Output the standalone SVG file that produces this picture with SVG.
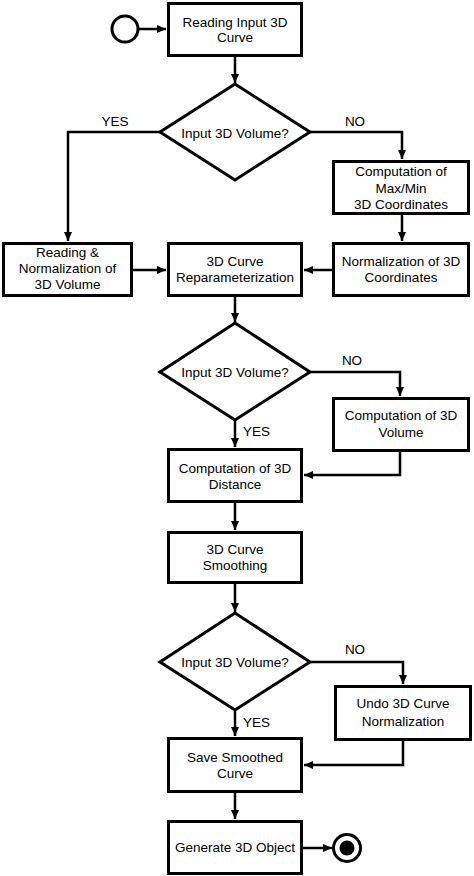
<svg xmlns="http://www.w3.org/2000/svg" width="474" height="876" viewBox="0 0 474 876">
<defs>
<marker id="ah" markerUnits="userSpaceOnUse" markerWidth="10" markerHeight="10" refX="9" refY="5" orient="auto">
<path d="M0,1 L9,5 L0,9 Z" fill="#000"/>
</marker>
<style>
.box{fill:#fff;stroke:#000;stroke-width:3}
.dia{fill:#fff;stroke:#000;stroke-width:3;stroke-linejoin:miter}
.c{fill:none;stroke:#000;stroke-width:2.5;marker-end:url(#ah)}
.cn{fill:none;stroke:#000;stroke-width:2.5}
text{font-family:"Liberation Sans",Arial,sans-serif;font-size:13.5px;fill:#000;text-anchor:middle}
.l{text-anchor:start}
</style>
</defs>
<rect width="474" height="876" fill="#fff"/>
<g id="connectors">
<path class="c" d="M139,29 H166"/>
<path class="c" d="M235,57 V83"/>
<path class="c" d="M160,132 H68 V241"/>
<path class="c" d="M310,132 H402 V159"/>
<path class="c" d="M402,215 V241"/>
<path class="c" d="M332,270 H304"/>
<path class="c" d="M133,270 H166"/>
<path class="c" d="M235,297 V322"/>
<path class="c" d="M310,372 H400 V396"/>
<path class="c" d="M235,420 V447"/>
<path class="c" d="M400,452 V475 H304"/>
<path class="c" d="M235,503 V530"/>
<path class="c" d="M235,584 V612"/>
<path class="c" d="M310,662 H403 V684"/>
<path class="c" d="M235,710 V736"/>
<path class="c" d="M403,741 V765 H304"/>
<path class="c" d="M235,793 V819"/>
<path class="c" d="M303,848 H332"/>
</g>
<g id="start"><circle cx="125" cy="29" r="13" fill="#fff" stroke="#000" stroke-width="3"/></g>
<g id="n1"><rect class="box" x="168.5" y="3.5" width="133" height="52"/><text x="235" y="27">Reading Input 3D</text><text x="235" y="42">Curve</text></g>
<g id="d1"><polygon class="dia" points="235,84 310,132 235,180 160,132"/><text x="235" y="138">Input 3D Volume?</text></g>
<g id="lbl1"><text x="115" y="126">YES</text><text x="355" y="126">NO</text></g>
<g id="n2"><rect class="box" x="333.5" y="161.5" width="135" height="52"/><text x="401" y="176">Computation of</text><text x="401" y="192.5">Max/Min</text><text x="401" y="209">3D Coordinates</text></g>
<g id="n3"><rect class="box" x="3.5" y="243.5" width="128" height="52"/><text x="67.5" y="257">Reading &amp;</text><text x="67.5" y="273">Normalization of</text><text x="67.5" y="289">3D Volume</text></g>
<g id="n4"><rect class="box" x="168.5" y="243.5" width="133" height="52"/><text x="235" y="266">3D Curve</text><text x="235" y="282">Reparameterization</text></g>
<g id="n5"><rect class="box" x="333.5" y="243.5" width="135" height="52"/><text x="401" y="266">Normalization of 3D</text><text x="401" y="282">Coordinates</text></g>
<g id="d2"><polygon class="dia" points="235,323 310,372 235,420 160,372"/><text x="235" y="377">Input 3D Volume?</text></g>
<g id="lbl2"><text x="352" y="365">NO</text><text class="l" x="243" y="436">YES</text></g>
<g id="n6"><rect class="box" x="333.5" y="398.5" width="135" height="52"/><text x="401" y="420">Computation of 3D</text><text x="401" y="437">Volume</text></g>
<g id="n7"><rect class="box" x="168.5" y="449.5" width="133" height="52"/><text x="235" y="473">Computation of 3D</text><text x="235" y="489">Distance</text></g>
<g id="n8"><rect class="box" x="168.5" y="532.5" width="133" height="50"/><text x="235" y="554">3D Curve</text><text x="235" y="570">Smoothing</text></g>
<g id="d3"><polygon class="dia" points="235,613 310,662 235,710 160,662"/><text x="235" y="667">Input 3D Volume?</text></g>
<g id="lbl3"><text x="355" y="654">NO</text><text class="l" x="243" y="727">YES</text></g>
<g id="n9"><rect class="box" x="335.5" y="686.5" width="135" height="53"/><text x="403" y="708">Undo 3D Curve</text><text x="403" y="726">Normalization</text></g>
<g id="n10"><rect class="box" x="168.5" y="738.5" width="133" height="53"/><text x="235" y="762">Save Smoothed</text><text x="235" y="778">Curve</text></g>
<g id="n11"><rect class="box" x="168.5" y="821.5" width="133" height="52"/><text x="235" y="852">Generate 3D Object</text></g>
<g id="end"><circle cx="347" cy="848" r="13.5" fill="#fff" stroke="#000" stroke-width="3"/><circle cx="347" cy="848" r="7.5" fill="#000"/></g>
</svg>
